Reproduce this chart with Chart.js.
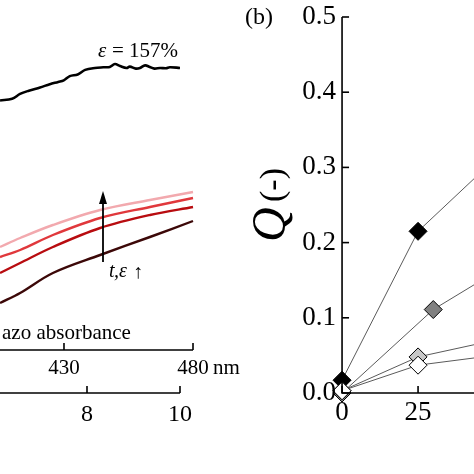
<!DOCTYPE html>
<html>
<head>
<meta charset="utf-8">
<script src="https://cdn.jsdelivr.net/npm/chart.js@4.4.0/dist/chart.umd.min.js"></script>
<style>
  html, body { margin: 0; padding: 0; background: #fff; }
  #wrap { position: relative; width: 474px; height: 474px; }
</style>
</head>
<body>
<div id="wrap"><canvas id="fig" width="474" height="474"></canvas></div>
<script>
// (a) main trace, strain eps = 157 %
const timeX = [6.13, 6.39, 6.56, 6.75, 6.99, 7.2, 7.38, 7.5, 7.63, 7.8, 7.96, 8.17, 8.35, 8.49, 8.6, 8.71, 8.85, 8.92, 9.05, 9.14, 9.25, 9.35, 9.45, 9.57, 9.7, 9.78, 10.0];
const timeY = [0.90, 0.905, 0.92, 0.93, 0.94, 0.95, 0.957, 0.962, 0.975, 0.98, 0.994, 1.0, 1.002, 1.003, 1.012, 1.006, 1.0, 1.004, 0.998, 1.0, 1.008, 1.003, 0.998, 1.0, 0.999, 1.002, 1.0];

// (a) inset: azo absorbance spectra
const wavelengths = [405.2, 413, 425.7, 444, 463.3, 480];
const absDark = [0.235, 0.285, 0.385, 0.475, 0.565, 0.645];
const absRed = [0.385, 0.435, 0.515, 0.61, 0.675, 0.715];
const absLight = [0.465, 0.5, 0.575, 0.66, 0.715, 0.76];
const absPink = [0.515, 0.56, 0.625, 0.70, 0.75, 0.79];

// (b) Q vs x
const qX = [0, 25, 50];
const qXdark = [0, 30, 50];
const qBlack = [0.017, 0.215, 0.31];
const qDark = [0, 0.111, 0.16];
const qLight = [0.003, 0.048, 0.07];
const qWhite = [0.003, 0.037, 0.05];
const qTicks = [0, 0.1, 0.2, 0.3, 0.4, 0.5];
const qXTicks = [0, 25];
const timeTicks = [6, 8, 10];
const nmTicks = [430, 480];

const serif = '"Liberation Serif", "DejaVu Serif", serif';
const pts = (xs, ys) => xs.map((x, i) => ({ x: x, y: ys[i] }));

function lineSet(xs, ys, color, xAxis, yAxis, width) {
    return {
        data: pts(xs, ys), borderColor: color, borderWidth: width, pointRadius: 0,
        xAxisID: xAxis, yAxisID: yAxis, tension: 0.35, fill: false
    };
}
function qSet(xs, ys, fillColor) {
    return {
        data: pts(xs, ys), borderColor: '#5a5a5a', borderWidth: 1, tension: 0,
        pointStyle: 'rectRot', pointRadius: 9, pointBackgroundColor: fillColor,
        pointBorderColor: '#000', pointBorderWidth: 1, xAxisID: 'xP', yAxisID: 'yQ'
    };
}

// axes, ticks and labels drawn by hand from the scales
const axesPlugin = {
    id: 'axes',
    afterDatasetsDraw(chart) {
        const c = chart.ctx, s = chart.scales;
        c.save();
        c.strokeStyle = '#000';
        c.fillStyle = '#000';
        c.lineWidth = 1.6;

        // main x axis (a)
        const yb = s.yT.getPixelForValue(0);
        c.beginPath();
        c.moveTo(0, yb); c.lineTo(s.xT.getPixelForValue(10), yb); c.stroke();
        c.font = '24px ' + serif; c.textAlign = 'center'; c.textBaseline = 'top';
        timeTicks.forEach(t => {
            const x = s.xT.getPixelForValue(t);
            c.beginPath(); c.moveTo(x, yb); c.lineTo(x, yb - 7); c.stroke();
            c.fillText(String(t), x, yb + 10);
        });

        // inset nm axis
        const ya = s.yA.getPixelForValue(0);
        c.beginPath();
        c.moveTo(0, ya); c.lineTo(s.xW.getPixelForValue(480), ya); c.stroke();
        c.font = '21px ' + serif;
        nmTicks.forEach(t => {
            const x = s.xW.getPixelForValue(t);
            c.beginPath(); c.moveTo(x, ya); c.lineTo(x, ya - 7); c.stroke();
            c.fillText(String(t), x, ya + 8);
        });
        c.textAlign = 'left';
        c.fillText('nm', s.xW.getPixelForValue(480) + 20, ya + 8);
        c.textBaseline = 'bottom';
        c.fillText('azo absorbance', 2, ya - 6);

        // eps label
        c.font = 'italic 21px ' + serif;
        c.fillText('\u03b5', 98, 62);
        c.font = '21px ' + serif;
        c.fillText('= 157%', 112, 62);

        // arrow t,eps
        c.lineWidth = 1.8;
        c.beginPath(); c.moveTo(103, 262); c.lineTo(103, 200); c.stroke();
        c.beginPath(); c.moveTo(103, 191); c.lineTo(99, 204); c.lineTo(107, 204); c.closePath(); c.fill();
        c.font = 'italic 20px ' + serif;
        c.fillText('t', 109, 282);
        c.fillText(',\u03b5', 114, 282);
        c.font = '20px ' + serif;
        c.fillText('\u2191', 133, 283);

        // (b) axes
        c.lineWidth = 1.6;
        const x0 = s.xP.getPixelForValue(0), y0 = s.yQ.getPixelForValue(0);
        c.beginPath();
        c.moveTo(x0, s.yQ.getPixelForValue(0.5)); c.lineTo(x0, y0); c.lineTo(474, y0); c.stroke();
        c.font = '27px ' + serif; c.textAlign = 'right'; c.textBaseline = 'middle';
        qTicks.forEach(t => {
            const y = s.yQ.getPixelForValue(t);
            c.beginPath(); c.moveTo(x0, y); c.lineTo(x0 + 7, y); c.stroke();
            c.fillText(t.toFixed(1), x0 - 6, y);
        });
        c.textAlign = 'center'; c.textBaseline = 'top';
        qXTicks.forEach(t => {
            const x = s.xP.getPixelForValue(t);
            c.beginPath(); c.moveTo(x, y0); c.lineTo(x, y0 - 7); c.stroke();
            c.fillText(String(t), x, y0 + 6);
        });
        c.font = '24px ' + serif; c.textAlign = 'left';
        c.fillText('(b)', 245, 6);

        // Q (-) rotated title
        c.translate(285, 222);
        c.rotate(-Math.PI / 2);
        c.textBaseline = 'alphabetic';
        c.font = 'italic 48px ' + serif;
        c.fillText('Q', -20, 0);
        c.font = '34px ' + serif;
        c.fillText('(-)', 20, -2);
        c.restore();
    }
};

const hidden = (min, max) => ({ type: 'linear', display: false, min: min, max: max });

new Chart(document.getElementById('fig'), {
    type: 'line',
    data: {
        datasets: [
            lineSet(timeX, timeY, '#000', 'xT', 'yT', 2.6),
            lineSet(wavelengths, absPink, '#f2a9ae', 'xW', 'yA', 2.4),
            lineSet(wavelengths, absLight, '#e0383c', 'xW', 'yA', 2.4),
            lineSet(wavelengths, absRed, '#b80c10', 'xW', 'yA', 2.4),
            lineSet(wavelengths, absDark, '#3c0808', 'xW', 'yA', 2.4),
            qSet(qX, qWhite, '#ffffff'),
            qSet(qX, qLight, '#c8c8c8'),
            qSet(qXdark, qDark, '#808080'),
            qSet(qX, qBlack, '#000000')
        ]
    },
    options: {
        responsive: false,
        animation: false,
        layout: { padding: 0, autoPadding: false },
        plugins: { legend: { display: false }, tooltip: { enabled: false } },
        scales: {
            xT: hidden(6.129, 16.323),
            yT: hidden(-0.249, 1.209),
            xW: hidden(405.2, 588.9),
            yA: hidden(-0.62, 1.75),
            xP: hidden(-112.5, 43.4),
            yQ: hidden(-0.1077, 0.5226)
        }
    },
    plugins: [axesPlugin]
});
</script>
</body>
</html>
